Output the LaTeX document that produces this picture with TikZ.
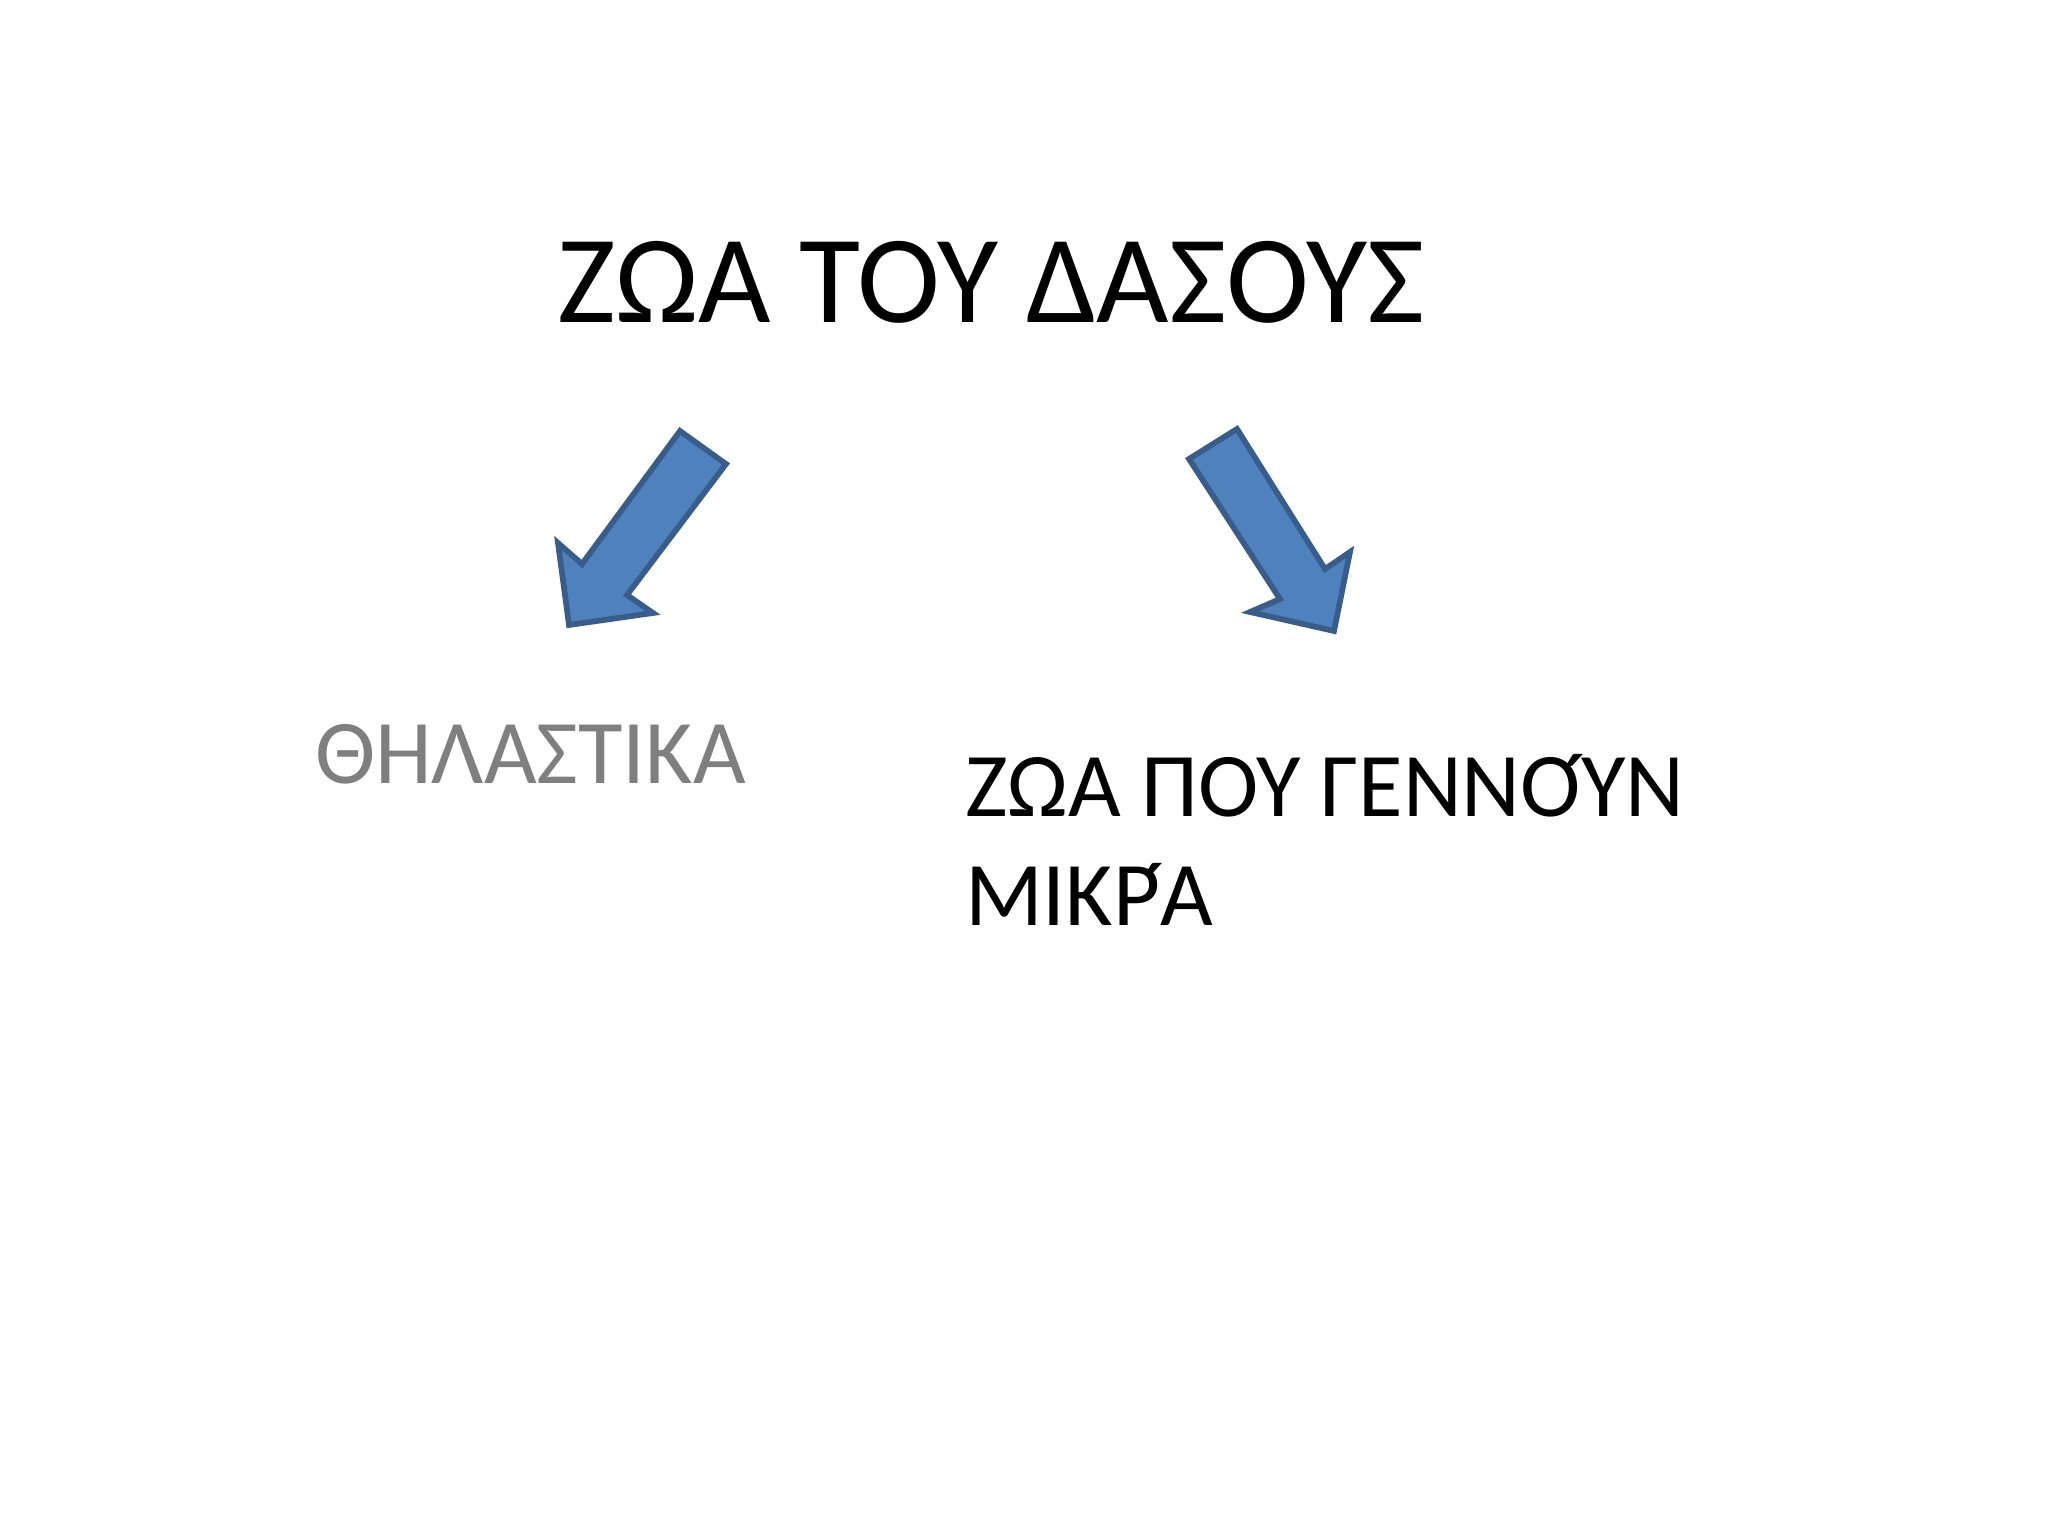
\documentclass[tikz,border=0pt]{standalone}
\usepackage{fontspec}
\setmainfont{Carlito}
\definecolor{arrowfill}{HTML}{4F81BD}
\definecolor{arrowdraw}{HTML}{385D8A}
\definecolor{graytext}{HTML}{7F7F7F}
\newcommand{\tonosmark}{\makebox[0pt][l]{\kern-0.2em\raisebox{-0.01em}{\char"00B4}}}
\begin{document}
\begin{tikzpicture}[x=0.3515625pt,y=-0.3515625pt,
  blockarrow/.style={fill=arrowfill,draw=arrowdraw,line width=2pt,line join=miter},
  label/.style={inner sep=0pt,outer sep=0pt}]
\useasboundingbox (0,0) rectangle (2048,1536);
\fill[white] (0,0) rectangle (2048,1536);
% title
\node[label,anchor=base,font=\fontsize{44}{52.8}\selectfont] (title) at (991,323) {ΖΩΑ ΤΟΥ ΔΑΣΟΥΣ};
% left block arrow
\draw[blockarrow] (680,431) -- (726,464) -- (627,595) -- (653,613) -- (569,625) -- (558,543) -- (582,564) -- cycle;
% right block arrow
\draw[blockarrow] (1189,459) -- (1237,429) -- (1325,569) -- (1350,552) -- (1334,631) -- (1250,612) -- (1280,599) -- cycle;
% left label
\node[label,anchor=base west,text=graytext,font=\fontsize{32}{38.4}\selectfont] (mammals) at (315,783) {ΘΗΛΑΣΤΙΚΑ};
% right label
\node[label,anchor=base west,font=\fontsize{32}{38.4}\selectfont] (young1) at (965,816) {ΖΩΑ ΠΟΥ ΓΕΝΝΟ\tonosmark ΥΝ};
\node[label,anchor=base west,font=\fontsize{32}{38.4}\selectfont] (young2) at (965,925) {ΜΙΚΡ\tonosmark Α};
\end{tikzpicture}
\end{document}
